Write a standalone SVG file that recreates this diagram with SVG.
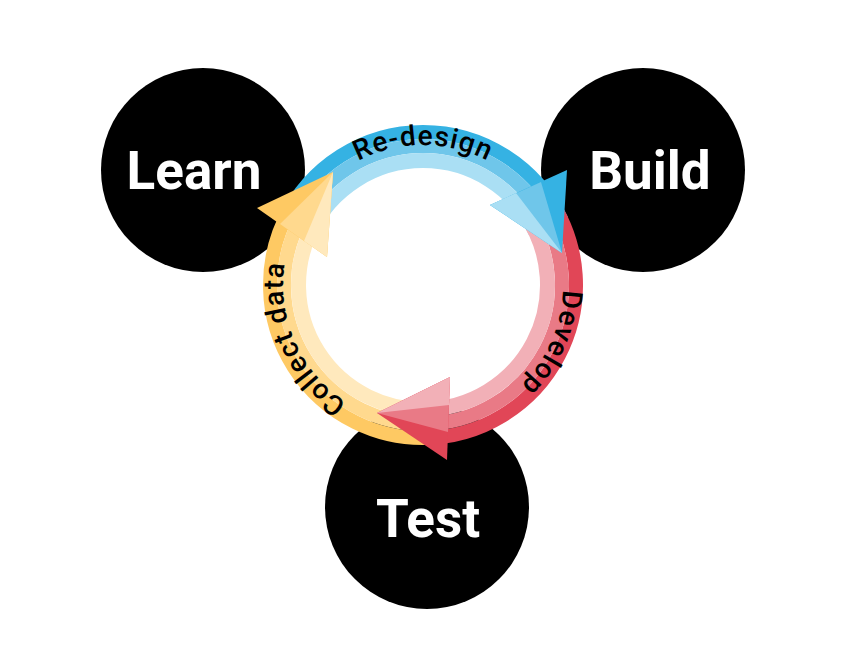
<svg xmlns="http://www.w3.org/2000/svg" width="841" height="659" viewBox="0 0 841 659">
<style>
.node{fill:#000}
.nt{fill:#fff;font-family:Roboto,"Liberation Sans",sans-serif;font-weight:bold;font-size:53px;text-anchor:middle}
.lb{fill:#000;font-family:Roboto,"Liberation Sans",sans-serif;font-weight:500;font-size:28px;letter-spacing:1px;text-anchor:middle}
path.b{fill:none}
</style>
<defs>
<path id="p1" d="M301.8,215 A140,140 0 0 1 544.2,215"/>
<path id="p2" d="M536.3,202.7 A140,140 0 0 1 437.6,424.2"/>
<path id="p3" d="M408.4,424.2 A140,140 0 0 1 309.7,202.7"/>
</defs>
<rect width="841" height="659" fill="#fff"/>
<g id="learn"><circle class="node" cx="203" cy="170" r="102"/><text class="nt" x="194" y="189">Learn</text></g>
<g id="build"><circle class="node" cx="643" cy="170" r="102"/><text class="nt" x="650" y="189">Build</text></g>
<g id="test"><circle class="node" cx="427" cy="507" r="102"/><text class="nt" x="428" y="537">Test</text></g>
<g id="connectors">
<path class="b" stroke="#35b2e3" stroke-width="14" d="M284.3,220.3 A153,153 0 0 1 561.7,220.3"/>
<path class="b" stroke="#6fc6ea" stroke-width="14" d="M297,226.3 A139,139 0 0 1 549,226.3"/>
<path class="b" stroke="#aadff4" stroke-width="15" d="M310.2,232.4 A124.5,124.5 0 0 1 535.8,232.4"/>
<path class="b" stroke="#e14657" stroke-width="14" d="M548.3,197.2 A153,153 0 0 1 423,438"/>
<path class="b" stroke="#e97a86" stroke-width="14" d="M536.9,205.3 A139,139 0 0 1 423,424"/>
<path class="b" stroke="#f2b0b7" stroke-width="15" d="M525,213.6 A124.5,124.5 0 0 1 423,409.5"/>
<path class="b" stroke="#fec963" stroke-width="14" d="M436.3,437.4 A153,153 0 0 1 290.5,208.5"/>
<path class="b" stroke="#ffd98e" stroke-width="14" d="M435.1,423.5 A139,139 0 0 1 302.6,215.5"/>
<path class="b" stroke="#ffe9bd" stroke-width="15" d="M433.9,409 A124.5,124.5 0 0 1 315.2,222.75"/>
<polygon fill="#35b2e3" points="567,170 490,205 562,253"/>
<polygon fill="#6fc6ea" points="541,182 490,205 562,253"/>
<polygon fill="#aadff4" points="516,193 490,205 562,253"/>
<polygon fill="#e14657" points="447,460 450,377 377,413"/>
<polygon fill="#e97a86" points="448,432 450,377 377,413"/>
<polygon fill="#f2b0b7" points="449,405 450,377 377,413"/>
<polygon fill="#fec963" points="257,208 327,257 333,172"/>
<polygon fill="#ffd98e" points="280,224 327,257 333,172"/>
<polygon fill="#ffe9bd" points="304,241 327,257 333,172"/>
</g>
<text class="lb"><textPath href="#p1" startOffset="50%">Re-design</textPath></text>
<text class="lb"><textPath href="#p2" startOffset="50%">Develop</textPath></text>
<text class="lb"><textPath href="#p3" startOffset="50%">Collect data</textPath></text>
</svg>
